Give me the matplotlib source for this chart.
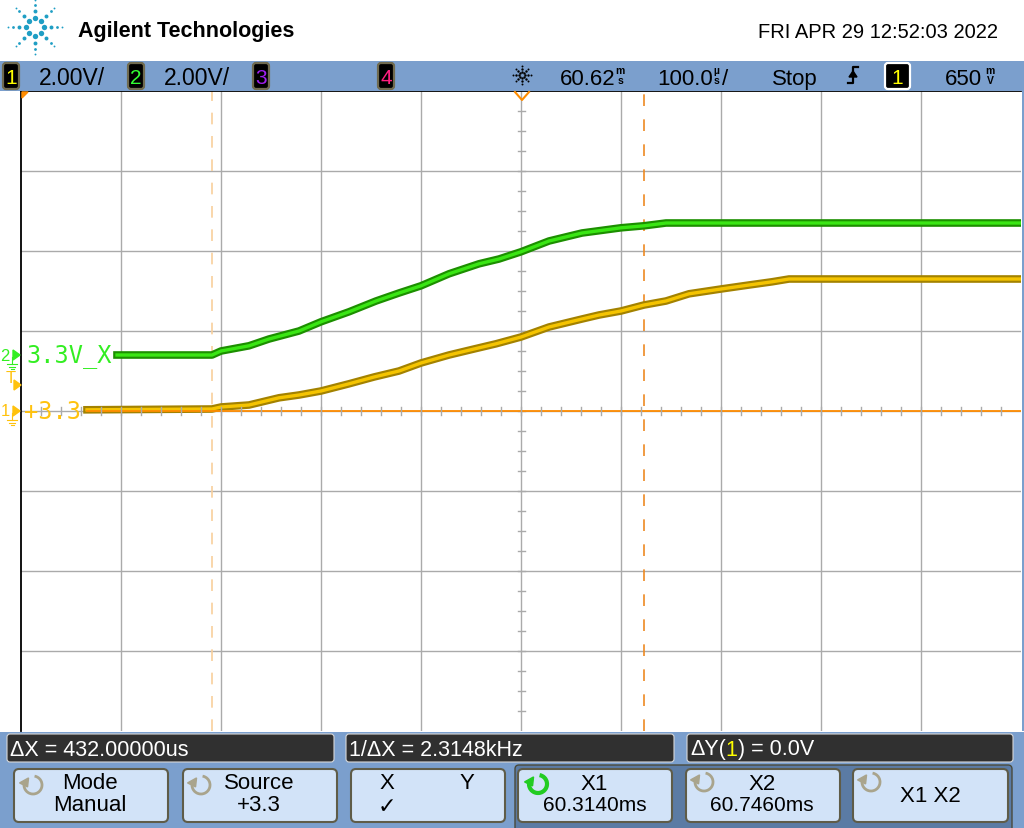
import math

import matplotlib
matplotlib.use('Agg')
import matplotlib.pyplot as plt
from matplotlib import font_manager
from matplotlib.patches import FancyBboxPatch, Rectangle, Polygon, Arc

W, H = 1024, 829

# scope settings
DELAY_MS = 60.623        # shown rounded as 60.62ms
TIME_PER_DIV = 100       # us
VOLT_PER_DIV = 2.0
CH2_POS = 1.4            # ch2 ground position, in ch1 screen volts
TRIG_LEVEL = 0.65
X1_MS = 60.3140
X2_MS = 60.7460
Y_CURSOR = 0.0

# traces, time in us relative to the delay point, volts
ch1_t = [-434, -309, -300, -272, -242, -222, -200, -172, -147, -122, -100, -72, -47, -25,
         0, 28, 61, 78, 100, 123, 145, 168, 200, 228, 251, 268, 499]
ch1_v = [0.03, 0.05, 0.10, 0.15, 0.33, 0.40, 0.50, 0.68, 0.85, 1.00, 1.20, 1.40, 1.55, 1.68,
         1.85, 2.10, 2.30, 2.40, 2.50, 2.65, 2.75, 2.93, 3.05, 3.15, 3.23, 3.30, 3.30]
ch2_t = [-404, -309, -300, -272, -252, -222, -200, -172, -145, -122, -100, -72, -42, -22,
         0, 28, 61, 100, 123, 145, 499]
ch2_v = [0.0, 0.0, 0.10, 0.23, 0.40, 0.60, 0.83, 1.08, 1.35, 1.55, 1.73, 2.03, 2.28, 2.40,
         2.58, 2.85, 3.05, 3.18, 3.23, 3.30, 3.30]

BLUE = '#7b9fcd'
YEL = '#ffc20e'
GRN = '#33ee22'
ORANGE = '#ff8c00'

names = {f.name for f in font_manager.fontManager.ttflist}
NARROW = 'Liberation Sans Narrow' if 'Liberation Sans Narrow' in names else None
SANS = ['Liberation Sans', 'DejaVu Sans']

fig = plt.figure(figsize=(W / 100, H / 100), dpi=100)
fig.patch.set_facecolor('white')

# plot area: 10 x 8 divisions, 100 x 80 px each
ax = fig.add_axes([21 / W, 1 - 732 / H, 1000 / W, 640 / H], zorder=1)
ax.set_xlim(-5 * TIME_PER_DIV, 5 * TIME_PER_DIV)
ax.set_ylim(-4 * VOLT_PER_DIV, 4 * VOLT_PER_DIV)
ax.set_xticks([])
ax.set_yticks([])
for s in ['right', 'bottom']:
    ax.spines[s].set_visible(False)
for s in ['left', 'top']:
    ax.spines[s].set_linewidth(1.3)
    ax.spines[s].set_color('black')

for i in range(-4, 5):
    ax.axvline(i * TIME_PER_DIV, color='#aaaaaa', lw=1.0, zorder=1)
for j in range(-3, 4):
    ax.axhline(j * VOLT_PER_DIV, color='#aaaaaa', lw=1.0, zorder=1)
# sub-division ticks on the centre lines
for t in range(-480, 500, 20):
    ax.plot([t, t], [-0.09, 0.09], color='#aaaaaa', lw=1.0, zorder=6)
for v in [k * 0.5 for k in range(-15, 16)]:
    ax.plot([-3.5, 3.5], [v, v], color='#aaaaaa', lw=1.0, zorder=1)

# traces: dark band + bright core
ax.plot(ch1_t, ch1_v, color='#a38200', lw=5.5, zorder=3)
ax.plot(ch1_t, ch1_v, color='#f5c400', lw=2.4, zorder=3)
ch2_screen = [v + CH2_POS for v in ch2_v]
ax.plot(ch2_t, ch2_screen, color='#1c8f00', lw=5.5, zorder=4)
ax.plot(ch2_t, ch2_screen, color='#3ae614', lw=2.4, zorder=4)

# cursors
x1 = (X1_MS - DELAY_MS) * 1000
x2 = (X2_MS - DELAY_MS) * 1000
ax.axvline(x1, color='#f8cf9c', lw=1.2, ls=(0, (7, 7)), zorder=2)
ax.axvline(x2, color='#ee8a22', lw=1.2, ls=(0, (7, 8)), zorder=2)
ax.plot([ch1_t[0], 500], [Y_CURSOR, Y_CURSOR], color=ORANGE, lw=1.3, zorder=5)

# overlay in pixel coordinates for the instrument frame
ov = fig.add_axes([0, 0, 1, 1], zorder=3)
ov.set_xlim(0, W)
ov.set_ylim(H, 0)
ov.axis('off')
ov.patch.set_alpha(0)


def vpx(v):
    return 412 - v / VOLT_PER_DIV * 80


# header: logo + date
for r, s in [(9, 15), (16, 8), (22, 4), (27, 1.8)]:
    for k in range(8):
        a = math.radians(45 * k)
        ov.scatter(35 + r * math.cos(a), 28 + r * math.sin(a), s=s, marker='o',
                   color='#1f9ec4', lw=0)
if NARROW:
    ov.text(78, 37, 'Agilent Technologies', fontsize=18, fontweight='bold', family=NARROW,
            ha='left', va='baseline')
    ov.text(998, 38, 'FRI APR 29 12:52:03 2022', fontsize=17, family=NARROW,
            ha='right', va='baseline')
else:
    ov.text(78, 37, 'Agilent Technologies', fontsize=15.5, fontweight='bold', family=SANS,
            ha='left', va='baseline')
    ov.text(998, 38, 'FRI APR 29 12:52:03 2022', fontsize=14.5, family=SANS,
            ha='right', va='baseline')

# header bar
ov.add_patch(Rectangle((0, 62), W, 30, color=BLUE, lw=0))


def chan_box(x0, x1, label, color, edge='#706b50'):
    ov.add_patch(FancyBboxPatch((x0, 64), x1 - x0, 26, boxstyle='round,pad=0,rounding_size=3',
                                fc='black', ec=edge, lw=1.6))
    ov.text((x0 + x1) / 2, 78, label, color=color, fontsize=15, ha='center', va='center',
            family=SANS)


chan_box(3, 19, '1', '#ffff00')
ov.text(39, 85, '2.00V/', fontsize=16.5, family=SANS, va='baseline')
chan_box(128, 144, '2', '#33ff33')
ov.text(164, 85, '2.00V/', fontsize=16.5, family=SANS, va='baseline')
chan_box(253, 269, '3', '#a020f0')
chan_box(378, 394, '4', '#ff1f7f')
chan_box(885, 910, '1', '#ffff00', edge='white')

# acquisition icon
for r, s in [(3, 3), (6, 3), (9, 2)]:
    for k in range(8):
        a = math.radians(45 * k)
        ov.scatter(522 + r * math.cos(a), 76 + r * math.sin(a), s=s, color='black', lw=0)

ov.text(560, 85, '60.62', fontsize=16, family=SANS, va='baseline')
ov.text(620, 71, 'm', fontsize=7.5, family=SANS, ha='center', va='center', fontweight='bold')
ov.text(620, 81, 's', fontsize=7.5, family=SANS, ha='center', va='center', fontweight='bold')
ov.text(657, 85, '100.0', fontsize=16, family=SANS, va='baseline')
ov.text(716, 71, 'µ', fontsize=7.5, family=SANS, ha='center', va='center', fontweight='bold')
ov.text(716, 81, 's', fontsize=7.5, family=SANS, ha='center', va='center', fontweight='bold')
ov.text(722, 85, '/', fontsize=16, family=SANS, va='baseline')
ov.text(772, 85, 'Stop', fontsize=16, family=SANS, va='baseline')
# rising edge trigger symbol
ov.plot([848, 853, 853, 858], [84, 84, 68, 68], color='black', lw=1.6)
ov.add_patch(Polygon([[849, 78], [857, 78], [853, 72]], color='black'))
ov.text(945, 85, '650', fontsize=16, family=SANS, va='baseline')
ov.text(990, 71, 'm', fontsize=7.5, family=SANS, ha='center', va='center', fontweight='bold')
ov.text(990, 81, 'V', fontsize=7.5, family=SANS, ha='center', va='center', fontweight='bold')

# right edge strip
ov.add_patch(Rectangle((1021.5, 92), 3, 640, color=BLUE, lw=0))

# markers on the plot edge
ov.add_patch(Polygon([[22, 93], [28, 93], [22, 99]], color=ORANGE))
ov.plot([515, 522, 529], [93, 101, 93], color=ORANGE, lw=1.5)


def ground_marker(y, label, color):
    ov.text(5, y, label, color=color, fontsize=12, ha='center', va='center', family=SANS)
    ov.add_patch(Polygon([[13, y - 5], [13, y + 5], [20, y]], color=color))
    ov.plot([12, 12], [y + 2, y + 9], color=color, lw=0.8)
    for dy, hw in [(9, 5), (12, 3), (14, 1.5)]:
        ov.plot([12 - hw, 12 + hw], [y + dy, y + dy], color=color, lw=0.8)


ground_marker(vpx(CH2_POS), '2', GRN)
ground_marker(vpx(0), '1', YEL)

gt = vpx(TRIG_LEVEL)
ov.text(11, gt - 8, 'T', color=YEL, fontsize=12, ha='center', va='center', family=SANS)
ov.add_patch(Polygon([[14, gt - 5], [14, gt + 5], [21, gt]], color=YEL))

ov.text(26, vpx(CH2_POS), '3.3V_X', color=GRN, fontsize=17, family='DejaVu Sans Mono',
        ha='left', va='center')
ov.text(24, vpx(0), '+3.3', color=YEL, fontsize=17, family='DejaVu Sans Mono',
        ha='left', va='center')

# bottom softkey panel
ov.add_patch(Rectangle((0, 732.5), W, 97, color=BLUE, lw=0))
for x0, x1_ in [(7, 334), (346, 674), (687, 1013)]:
    ov.add_patch(FancyBboxPatch((x0, 735), x1_ - x0, 28, boxstyle='round,pad=0,rounding_size=3',
                                fc='#303030', ec='#d8d8d8', lw=0.8))
ov.text(10, 750, 'ΔX = 432.00000us', color='white', fontsize=15.5, family=SANS, va='center')
ov.text(349, 750, '1/ΔX = 2.3148kHz', color='white', fontsize=15.5, family=SANS, va='center')
ov.text(690, 750, 'ΔY(', color='white', fontsize=15.5, family=SANS, va='center')
ov.text(725, 750, '1', color='#ffff00', fontsize=15.5, family=SANS, va='center')
ov.text(738, 750, ') = 0.0V', color='white', fontsize=15.5, family=SANS, va='center')

ov.add_patch(FancyBboxPatch((515, 766), 497, 70, boxstyle='round,pad=0,rounding_size=4',
                            fc='#5b7ba4', ec='#4a4a3a', lw=1.0))


def button(x0, x1_):
    ov.add_patch(FancyBboxPatch((x0, 770), x1_ - x0, 53, boxstyle='round,pad=0,rounding_size=5',
                                fc='#d2e3f8', ec='#5f5c48', lw=1.5))


def spin_icon(cx, cy, color, lw=2.0, r=9):
    ov.add_patch(Arc((cx, cy), 2 * r, 2 * r, theta1=-80, theta2=195, color=color, lw=lw))
    px = cx + r * math.cos(math.radians(160))
    py = cy - r * math.sin(math.radians(160))
    ov.add_patch(Polygon([[px - 5, py + 1], [px + 4, py - 4], [px + 3, py + 5]], color=color))


button(14, 168)
spin_icon(33, 786, '#a9a48c')
ov.text(90, 784, 'Mode', fontsize=16, family=SANS, ha='center', va='center')
ov.text(90, 806, 'Manual', fontsize=16, family=SANS, ha='center', va='center')

button(183, 337)
spin_icon(201, 786, '#a9a48c')
ov.text(259, 784, 'Source', fontsize=16, family=SANS, ha='center', va='center')
ov.text(259, 806, '+3.3', fontsize=16, family=SANS, ha='center', va='center')

button(351, 505)
ov.text(387, 784, 'X', fontsize=16, family=SANS, ha='center', va='center')
ov.text(467, 784, 'Y', fontsize=16, family=SANS, ha='center', va='center')
ov.text(387, 807, '✓', fontsize=16, family=['DejaVu Sans'], ha='center', va='center')

button(518, 672)
spin_icon(538, 785, '#22cc22', lw=3.0, r=9)
ov.text(594, 785, 'X1', fontsize=16, family=SANS, ha='center', va='center')
ov.text(595, 806, '60.3140ms', fontsize=15, family=SANS, ha='center', va='center')

button(686, 840)
spin_icon(704, 783, '#a9a48c')
ov.text(762, 785, 'X2', fontsize=16, family=SANS, ha='center', va='center')
ov.text(762, 806, '60.7460ms', fontsize=15, family=SANS, ha='center', va='center')

button(853, 1008)
spin_icon(871, 783, '#a9a48c')
ov.text(930, 797, 'X1 X2', fontsize=16, family=SANS, ha='center', va='center')

fig.savefig('out.png', dpi=100)
